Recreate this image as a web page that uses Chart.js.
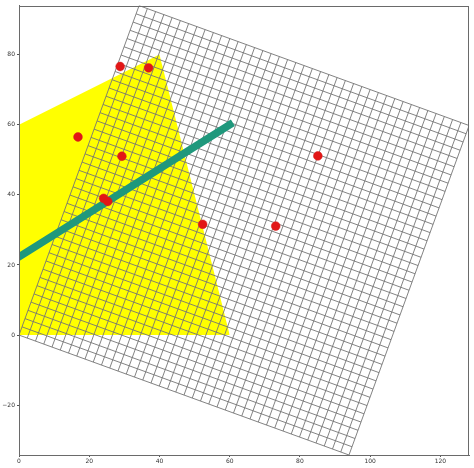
<!DOCTYPE html>
<html>
<head>
<meta charset="utf-8">
<script src="https://cdn.jsdelivr.net/npm/chart.js@4/dist/chart.umd.min.js"></script>
<style>
    body { margin: 0; background: #fff; }
    canvas { display: block; }
</style>
</head>
<body>
<canvas id="grafica" width="474" height="468"></canvas>
<script>
// red points
const puntosX = [28.8, 36.9, 16.8, 29.3, 24.1, 25.3, 52.3, 73.1, 85.1];
const puntosY = [76.6, 76.2, 56.5, 51.0, 39.0, 38.1, 31.6, 31.1, 51.1];

// teal line
const lineaX = [0, 60];
const lineaY = [22.3, 60];

// yellow polygon (filled down to y = 0)
const poligonoX = [0, 40, 60];
const poligonoY = [60, 80, 0];

// rotated square grid
const mallaTamano = 100;
const mallaCeldas = 40;
const mallaAngulo = 20; // degrees, clockwise

const xTicks = [0, 20, 40, 60, 80, 100, 120];
const yTicks = [-20, 0, 20, 40, 60, 80];

const rad = mallaAngulo * Math.PI / 180;
const ux = Math.cos(rad), uy = -Math.sin(rad);
const vx = Math.sin(rad), vy = Math.cos(rad);
const paso = mallaTamano / mallaCeldas;

function punto(i, j) {
    return { x: (i * ux + j * vx) * paso, y: (i * uy + j * vy) * paso };
}

const malla = [];
for (let k = 0; k <= mallaCeldas; k++) {
    malla.push(punto(k, 0), punto(k, mallaCeldas), { x: null, y: null });
    malla.push(punto(0, k), punto(mallaCeldas, k), { x: null, y: null });
}

const xMin = Math.min(0, mallaTamano * vx);
const xMax = mallaTamano * (ux + vx);
const yMin = mallaTamano * uy;
const yMax = mallaTamano * vy;

const marco = {
    id: 'marco',
    beforeDraw(chart) {
        const ctx = chart.ctx;
        ctx.save();
        ctx.fillStyle = '#ffffff';
        ctx.fillRect(0, 0, chart.width, chart.height);
        ctx.restore();
    },
    afterDatasetsDraw(chart) {
        const a = chart.chartArea;
        const ctx = chart.ctx;
        ctx.save();
        ctx.strokeStyle = '#6a6a6a';
        ctx.lineWidth = 1;
        ctx.strokeRect(Math.round(a.left) + 0.5, Math.round(a.top) + 0.5,
            Math.round(a.right - a.left) - 1, Math.round(a.bottom - a.top));
        ctx.restore();
    }
};

new Chart(document.getElementById('grafica'), {
    type: 'scatter',
    data: {
        datasets: [
            {
                data: puntosX.map((x, i) => ({ x: x, y: puntosY[i] })),
                backgroundColor: 'rgb(226, 22, 22)',
                borderColor: 'rgb(215, 30, 30)',
                borderWidth: 0.5,
                pointRadius: 4.4,
                order: 0
            },
            {
                data: lineaX.map((x, i) => ({ x: x, y: lineaY[i] })),
                showLine: true,
                borderColor: 'rgb(31, 152, 124)',
                borderWidth: 7.5,
                borderCapStyle: 'square',
                pointRadius: 0,
                order: 1
            },
            {
                data: malla,
                showLine: true,
                spanGaps: false,
                borderColor: 'rgba(118, 118, 118, 0.9)',
                borderWidth: 1,
                pointRadius: 0,
                order: 2
            },
            {
                data: poligonoX.map((x, i) => ({ x: x, y: poligonoY[i] })),
                showLine: true,
                borderWidth: 0,
                borderColor: 'rgba(0,0,0,0)',
                backgroundColor: '#ffff00',
                fill: { value: 0 },
                pointRadius: 0,
                order: 3
            }
        ]
    },
    options: {
        responsive: false,
        animation: false,
        events: [],
        layout: { padding: { top: 3, right: 2, left: 0, bottom: 0 } },
        plugins: {
            legend: { display: false },
            tooltip: { enabled: false }
        },
        scales: {
            x: {
                type: 'linear',
                min: xMin,
                max: xMax,
                afterBuildTicks: s => { s.ticks = xTicks.map(v => ({ value: v })); },
                afterFit: s => { s.height = 13; },
                grid: { drawOnChartArea: false, drawTicks: true, tickLength: 2, color: '#555' },
                border: { display: true, color: '#6a6a6a', width: 1 },
                ticks: {
                    padding: 1,
                    color: '#333',
                    maxRotation: 0,
                    font: { family: 'DejaVu Sans', size: 6 }
                }
            },
            y: {
                type: 'linear',
                min: yMin,
                max: yMax,
                afterBuildTicks: s => { s.ticks = yTicks.map(v => ({ value: v })); },
                afterFit: s => { s.width = 19; },
                grid: { drawOnChartArea: false, drawTicks: true, tickLength: 2, color: '#555' },
                border: { display: true, color: '#6a6a6a', width: 1 },
                ticks: {
                    padding: 2,
                    color: '#333',
                    font: { family: 'DejaVu Sans', size: 6 },
                    callback: v => String(v).replace('-', '\u2212')
                }
            }
        }
    },
    plugins: [marco]
});
</script>
</body>
</html>
